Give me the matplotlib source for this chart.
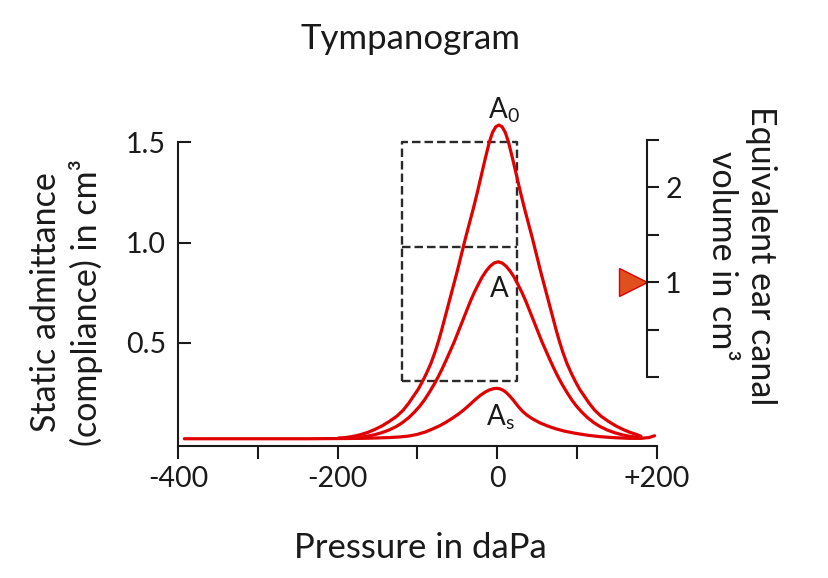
import matplotlib
matplotlib.use("Agg")
import matplotlib.pyplot as plt
from matplotlib.transforms import ScaledTranslation

plt.rcParams['font.family'] = ['Lato', 'DejaVu Sans']
plt.rcParams['mathtext.fontset'] = 'custom'
plt.rcParams['mathtext.rm'] = 'Lato'

# pressure (daPa) and static admittance (cm3)
a0_x = [-200, -188, -178, -170, -162, -153, -144, -135, -126, -118, -111, -105, -99,
        -93, -88, -83, -78, -74, -70, -66, -62, -58, -54, -50, -45, -40, -35, -30, -25,
        -20, -15, -10, -6, -2, 2, 6, 10, 14, 19, 24, 29, 34, 39, 44, 49, 54, 58, 62,
        66, 70, 74, 78, 82, 87, 92, 97, 103, 109, 115, 122, 130, 139, 148, 157, 166,
        174, 180]
a0_y = [0.025, 0.03, 0.037, 0.045, 0.055, 0.07, 0.088, 0.11, 0.135, 0.165, 0.20, 0.235,
        0.27, 0.314, 0.355, 0.40, 0.455, 0.505, 0.56, 0.62, 0.68, 0.74, 0.80, 0.86,
        0.94, 1.02, 1.095, 1.17, 1.25, 1.335, 1.42, 1.50, 1.548, 1.576, 1.585, 1.576,
        1.548, 1.50, 1.42, 1.335, 1.25, 1.17, 1.095, 1.02, 0.94, 0.86, 0.80, 0.74,
        0.68, 0.62, 0.56, 0.505, 0.455, 0.40, 0.355, 0.314, 0.27, 0.235, 0.20, 0.165,
        0.135, 0.11, 0.088, 0.07, 0.055, 0.045, 0.035]

a_x = [-199, -186, -174, -164, -154, -145, -136, -127, -119, -111, -104, -97, -91, -85,
       -79, -74, -69, -64, -59, -54, -49, -44, -39, -34, -29, -24, -19, -14, -9, -4, 1,
       6, 11, 16, 21, 26, 31, 36, 41, 46, 51, 56, 61, 66, 71, 76, 81, 87, 93, 99, 106,
       113, 121, 129, 138, 147, 156, 166, 176]
a_y = [0.025, 0.027, 0.03, 0.035, 0.043, 0.053, 0.066, 0.083, 0.103, 0.128, 0.155,
       0.186, 0.218, 0.255, 0.295, 0.332, 0.372, 0.415, 0.46, 0.505, 0.555, 0.605,
       0.655, 0.705, 0.75, 0.79, 0.828, 0.858, 0.882, 0.898, 0.904, 0.898, 0.882,
       0.858, 0.828, 0.79, 0.75, 0.705, 0.655, 0.605, 0.555, 0.505, 0.46, 0.415,
       0.372, 0.332, 0.295, 0.255, 0.218, 0.186, 0.155, 0.128, 0.103, 0.083, 0.066,
       0.053, 0.043, 0.035, 0.03]

as_x = [-392, -300, -240, -200, -170, -150, -135, -122, -110, -100, -90, -81, -72, -64,
        -56, -48, -41, -34, -27, -21, -15, -10, -5, -1, 3, 7, 11, 15, 19, 23, 27, 32,
        38, 45, 53, 62, 72, 84, 98, 114, 130, 148, 166, 180, 190, 197]
as_y = [0.023, 0.023, 0.023, 0.024, 0.025, 0.027, 0.029, 0.032, 0.037, 0.045, 0.057,
        0.072, 0.088, 0.106, 0.126, 0.148, 0.17, 0.195, 0.22, 0.24, 0.256, 0.266, 0.272,
        0.274, 0.272, 0.265, 0.254, 0.238, 0.22, 0.2, 0.18, 0.158, 0.138, 0.12, 0.103,
        0.088, 0.074, 0.061, 0.05, 0.04, 0.033, 0.028, 0.025, 0.025, 0.029, 0.038]

# dashed normal region
box_x = [-120, 25]
box_y = [0.31, 0.98, 1.5]

x_ticks = [-400, -300, -200, -100, 0, 100, 200]
x_labels = ['-400', '', '-200', '', '0', '', '+200']
y_ticks = [0.5, 1.0, 1.5]
y_labels = ['0.5', '1.0', '1.5']
vol_ticks = [0, 0.5, 1, 1.5, 2, 2.5]
vol_labels = ['', '', '1', '', '2', '']
canal_volume = 1.0
vol_axis_x = 187

red = '#e10000'
ink = '#1a1a1a'

fig = plt.figure(figsize=(8.29, 5.78), dpi=100)
ax = fig.add_axes([0.2147, 0.2284, 0.5778, 0.5779])

for xs, ys in [(as_x, as_y), (a_x, a_y), (a0_x, a0_y)]:
    ax.plot(xs, ys, color=red, lw=2.3, solid_capstyle='round', solid_joinstyle='round',
            clip_on=False, zorder=3)

dash = dict(color='#2a2a2a', lw=1.7, ls=(0, (3.6, 1.7)), zorder=2)
ax.plot([box_x[0], box_x[1], box_x[1], box_x[0], box_x[0]],
        [box_y[0], box_y[0], box_y[2], box_y[2], box_y[0]], **dash)
ax.plot(box_x, [box_y[1], box_y[1]], **dash)

ax.text(8, 1.62, 'A$_\\mathrm{0}$', ha='center', va='baseline', fontsize=20, color=ink)
ax.text(2, 0.73, 'A', ha='center', va='baseline', fontsize=20, color=ink)
ax.text(3.5, 0.092, 'A$_\\mathrm{s}$', ha='center', va='baseline', fontsize=20, color=ink)

ax.set_xlim(-400, 200)
ax.set_ylim(-0.013, 1.65)
ax.spines['top'].set_visible(False)
ax.spines['right'].set_visible(False)
for s in ['left', 'bottom']:
    ax.spines[s].set_linewidth(1.5)
    ax.spines[s].set_color(ink)
ax.spines['left'].set_bounds(-0.013, 1.5)
ax.set_xticks(x_ticks)
ax.set_xticklabels(x_labels)
ax.set_yticks(y_ticks)
ax.set_yticklabels(y_labels)
ax.tick_params(axis='x', direction='out', length=9.4, width=1.5, pad=5,
               labelsize=20.5, colors=ink)
ax.tick_params(axis='y', direction='in', length=9, width=1.5, pad=8.5,
               labelsize=20.5, colors=ink)

ax2 = ax.twinx()
ax2.set_ylim(-0.724, 2.796)
for s in ['left', 'top', 'bottom']:
    ax2.spines[s].set_visible(False)
ax2.spines['right'].set_position(('data', vol_axis_x))
ax2.spines['right'].set_bounds(0, 2.5)
ax2.spines['right'].set_linewidth(1.5)
ax2.spines['right'].set_color(ink)
ax2.set_yticks(vol_ticks)
ax2.set_yticklabels(vol_labels)
ax2.tick_params(axis='y', direction='out', length=8.4, width=1.5, pad=5,
                labelsize=20.5, colors=ink)

ms = 20
tip = ax2.transData + ScaledTranslation(-ms / 2 / 72, 0, fig.dpi_scale_trans)
ax2.plot([vol_axis_x], [canal_volume], marker='>', ms=ms, color='#e0501e',
         mec=red, mew=1, transform=tip, clip_on=False)

fig.text(0.4946, 0.9147, 'Tympanogram', ha='center', va='baseline', fontsize=25, color=ink)
fig.text(0.5066, 0.0346, 'Pressure in daPa', ha='center', va='baseline', fontsize=25,
         color=ink)
fig.text(0.0802, 0.4775, 'Static admittance\n(compliance) in cm\u00b3', rotation=90,
         ha='center', va='center', multialignment='center', fontsize=24.5,
         linespacing=1.27, color=ink)
fig.text(0.8945, 0.557, 'Equivalent ear canal\nvolume in cm\u00b3', rotation=270,
         ha='center', va='center', multialignment='center', fontsize=24.5,
         linespacing=1.27, color=ink)

fig.savefig('out.png', dpi=100)
